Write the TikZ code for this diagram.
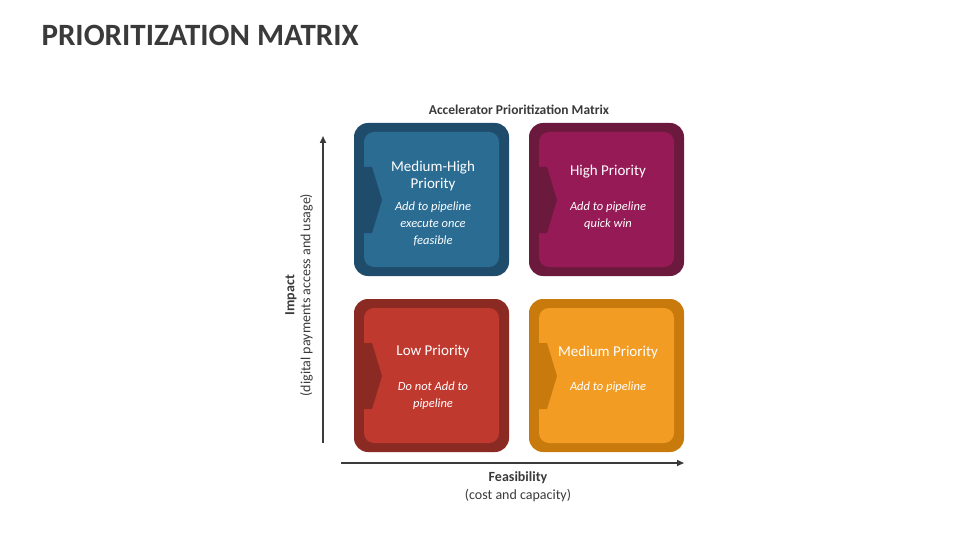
\documentclass[tikz,border=0pt]{standalone}
\usepackage{fontspec}
\setmainfont{Carlito}
\usetikzlibrary{arrows.meta}
\definecolor{txt}{HTML}{3A3A3A}
\definecolor{tlo}{HTML}{1F4C6A}\definecolor{tli}{HTML}{2B6C93}
\definecolor{tro}{HTML}{6B1A3D}\definecolor{tri}{HTML}{961A56}
\definecolor{blo}{HTML}{8B2A22}\definecolor{bli}{HTML}{C0392F}
\definecolor{bro}{HTML}{C97A0C}\definecolor{bri}{HTML}{F29C24}
\newcommand{\quadbox}[4]{%
  \fill[#3,outerbox] (#1,#2) rectangle ++(155,153);
  \fill[#4,innerbox] (#1+10,#2+9) rectangle ++(135,135);
  \fill[#3] (#1+8,#2+44) -- (#1+18,#2+44) -- (#1+28,#2+77) -- (#1+18,#2+110) -- (#1+8,#2+110) -- cycle;
}
\begin{document}
\begin{tikzpicture}[x=1pt,y=-1pt,
  outerbox/.style={rounded corners=14pt},
  innerbox/.style={rounded corners=10pt},
  head/.style={text=white,font=\fontsize{15}{17}\selectfont,align=center},
  sub/.style={text=white,font=\itshape\fontsize{12.5}{17}\selectfont,align=center},
  axis/.style={draw=txt,line width=1.6pt,-{Triangle[length=7pt,width=6pt]}}]
\useasboundingbox (0,0) rectangle (960,540);
\node[anchor=west,text=txt,font=\bfseries\fontsize{31}{33}\selectfont] (title) at (38,35) {PRIORITIZATION MATRIX};
\node[text=txt,font=\bfseries\fontsize{13.5}{15}\selectfont] (mt) at (519,110) {Accelerator Prioritization Matrix};
\quadbox{354}{123}{tlo}{tli}
\quadbox{529}{123}{tro}{tri}
\quadbox{354}{299}{blo}{bli}
\quadbox{529}{299}{bro}{bri}
\node[head] (q1h) at (433,176) {Medium-High\\Priority};
\node[sub] (q1s) at (433,224) {Add to pipeline\\execute once\\feasible};
\node[head] (q2h) at (608,172) {High Priority};
\node[sub] (q2s) at (608,216) {Add to pipeline\\quick win};
\node[head] (q3h) at (433,352) {Low Priority};
\node[sub] (q3s) at (433,396) {Do not Add to\\pipeline};
\node[head] (q4h) at (608,352) {Medium Priority};
\node[sub] (q4s) at (608,387) {Add to pipeline};
\coordinate (vb) at (323,443); \coordinate (vt) at (323,136);
\coordinate (hl) at (341,463); \coordinate (hr) at (684,463);
\draw[axis] (vb) -- (vt);
\draw[axis] (hl) -- (hr);
\node[text=txt,rotate=90,align=center,font=\fontsize{14}{16}\selectfont] (ylab) at (299,295) {\textbf{Impact}\\(digital payments access and usage)};
\node[text=txt,align=center,font=\fontsize{14}{18}\selectfont] (xlab) at (518,487) {\textbf{Feasibility}\\(cost and capacity)};
\end{tikzpicture}
\end{document}
